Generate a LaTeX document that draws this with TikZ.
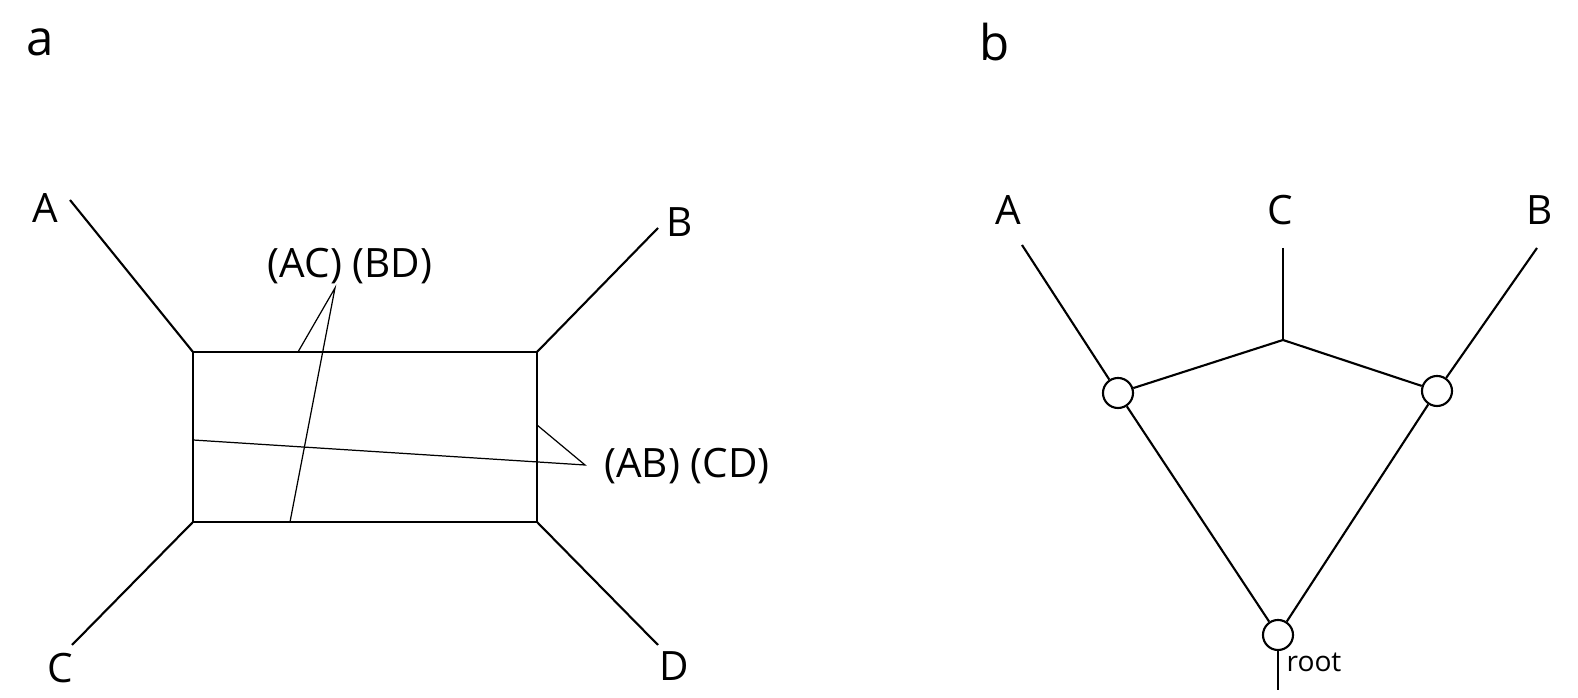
\documentclass[tikz,border=0pt]{standalone}
\usepackage{fontspec}
\setmainfont{Open Sans}
\begin{document}
\begin{tikzpicture}[x=0.01cm,y=-0.01cm,
  lbl/.style={font=\fontsize{11.5}{13}\selectfont,inner sep=0pt},
  big/.style={font=\fontsize{14}{16}\selectfont,inner sep=0pt},
  thk/.style={line width=0.6pt},
  thn/.style={line width=0.35pt},
  circ/.style={circle,draw,line width=0.6pt,minimum size=0.3cm,inner sep=0pt,fill=white}]
\useasboundingbox (0,0) rectangle (1578,698);
\node[big] (la) at (40,42) {a};
\node[big] (lb) at (995,42) {b};
% panel a
\coordinate (r1) at (193,352); \coordinate (r2) at (537,352);
\coordinate (r3) at (537,522); \coordinate (r4) at (193,522);
\draw[thk] (r1) -- (r2) -- (r3) -- (r4) -- cycle;
\node[lbl] (A) at (45,208) {A};
\node[lbl] (B) at (680,222) {B};
\node[lbl] (C) at (60,668) {C};
\node[lbl] (D) at (674,666) {D};
\coordinate (ea) at (70,200); \coordinate (eb) at (658,228);
\coordinate (ec) at (72,645); \coordinate (ed) at (658,645);
\draw[thk] (r1) -- (ea); \draw[thk] (r2) -- (eb);
\draw[thk] (r4) -- (ec); \draw[thk] (r3) -- (ed);
\node[lbl] (acbd) at (350,266) {(AC) (BD)};
\node[lbl] (abcd) at (687,466) {(AB) (CD)};
\coordinate (v1) at (335,288); \coordinate (v2) at (585,465);
\draw[thn] (298,352) -- (v1) -- (290,522);
\draw[thn] (537,425) -- (v2) -- (193,440);
% panel b
\node[lbl] (bA) at (1008,210) {A};
\node[lbl] (bC) at (1280,210) {C};
\node[lbl] (bB) at (1540,210) {B};
\coordinate (j) at (1283,340);
\node[circ] (cl) at (1118,393) {};
\node[circ] (cr) at (1437,391) {};
\node[circ] (cr0) at (1278,635) {};
\coordinate (ta) at (1022,245); \coordinate (tc) at (1283,248);
\coordinate (tb) at (1537,248); \coordinate (bot) at (1278,690);
\draw[thk] (ta) -- (cl); \draw[thk] (tc) -- (j);
\draw[thk] (tb) -- (cr);
\draw[thk] (cl) -- (j) -- (cr);
\draw[thk] (cl) -- (cr0); \draw[thk] (cr) -- (cr0);
\draw[thk] (cr0) -- (bot);
\node[font=\fontsize{8}{9}\selectfont,inner sep=0pt] (rt) at (1314,662) {root};
\end{tikzpicture}
\end{document}
